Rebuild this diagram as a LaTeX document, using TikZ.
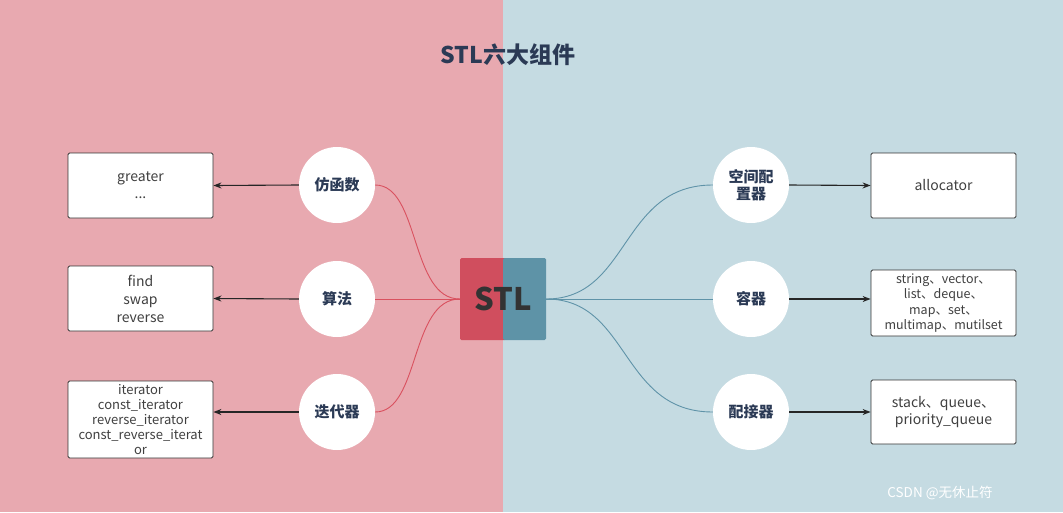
\documentclass[tikz,border=0pt]{standalone}
\usepackage{fontspec}
\setmainfont{Noto Sans CJK SC}
\usetikzlibrary{arrows.meta}
\definecolor{bgL}{HTML}{E8A9B0}
\definecolor{bgR}{HTML}{C5DBE2}
\definecolor{stlR}{HTML}{D04E5E}
\definecolor{stlB}{HTML}{5E93A7}
\definecolor{navy}{HTML}{2B3A55}
\definecolor{lnR}{HTML}{D9515F}
\definecolor{lnB}{HTML}{5F93A8}
\tikzset{
 circ/.style={circle,fill=white,minimum size=76pt,inner sep=0pt,font=\fontsize{15}{17}\selectfont\bfseries,text=navy,align=center},
 leaf/.style={draw=black!80,fill=white,rounded corners=1.5pt,line width=0.8pt,minimum width=145pt,align=center,font=\fontsize{14}{17}\selectfont,text=black!75,inner sep=1pt},
 arr/.style={-{Stealth[length=8pt,width=6pt]},line width=1.1pt,black!85},
 cvR/.style={lnR,line width=0.9pt},
 cvB/.style={lnB,line width=0.9pt}
}
\begin{document}
\begin{tikzpicture}[x=1pt,y=-1pt]
\useasboundingbox (0,0) rectangle (1063,512);
\fill[bgL] (0,0) rectangle (503,512);
\fill[bgR] (503,0) rectangle (1063,512);
\node[font=\fontsize{23}{26}\selectfont\bfseries,text=navy] (title) at (508,55) {STL六大组件};
\fill[stlR,rounded corners=1.5pt] (460,258) rectangle (506,340);
\fill[stlB,rounded corners=1.5pt] (503,258) rectangle (546,340);
\fill[stlR] (500,258) rectangle (503,340);
\node[font=\fontsize{31}{33}\selectfont\bfseries,text=black!80,minimum width=86pt,minimum height=82pt] (stl) at (503,299) {STL};
\node[circ] (c1) at (337,185) {仿函数};
\node[circ] (c2) at (337,299) {算法};
\node[circ] (c3) at (337,412) {迭代器};
\node[circ] (d1) at (751,185) {空间配\\置器};
\node[circ] (d2) at (751,299) {容器};
\node[circ] (d3) at (751,412) {配接器};
\node[leaf,minimum height=65pt] (b1) at (140.5,185.5) {greater\\...};
\node[leaf,minimum height=65pt,font=\fontsize{14}{18}\selectfont] (b2) at (140.5,298.5) {find\\swap\\reverse};
\node[leaf,minimum height=77pt,font=\fontsize{13}{15}\selectfont] (b3) at (140.5,419.5) {iterator\\const\_iterator\\reverse\_iterator\\const\_reverse\_iterat\\or};
\node[leaf,minimum height=65pt] (e1) at (943.5,185.5) {allocator};
\node[leaf,minimum height=66pt,font=\fontsize{12.5}{15.5}\selectfont] (e2) at (943.5,303) {string、vector、\\list、deque、\\map、set、\\multimap、mutilset};
\node[leaf,minimum height=64pt] (e3) at (943.5,412) {stack、queue、\\priority\_queue};
\draw[arr] (c1.west) -- (b1.east);
\draw[arr] (c2.west) -- (b2.east);
\draw[arr] (c3.west) -- (b3.east |- c3.west);
\draw[arr] (d1.east) -- (e1.west);
\draw[arr] (d2.east) -- (e2.west |- d2.east);
\draw[arr] (d3.east) -- (e3.west);
\draw[cvR] (stl.west) .. controls (410,299) and (420,185) .. (c1.east);
\draw[cvR] (stl.west) -- (c2.east);
\draw[cvR] (stl.west) .. controls (410,299) and (420,412) .. (c3.east);
\draw[cvB] (stl.east) .. controls (630,299) and (620,185) .. (d1.west);
\draw[cvB] (stl.east) -- (d2.west);
\draw[cvB] (stl.east) .. controls (630,299) and (620,412) .. (d3.west);
\node[text=white,font=\fontsize{13.5}{15}\selectfont] (wm) at (940,493) {CSDN @无休止符};
\end{tikzpicture}
\end{document}
